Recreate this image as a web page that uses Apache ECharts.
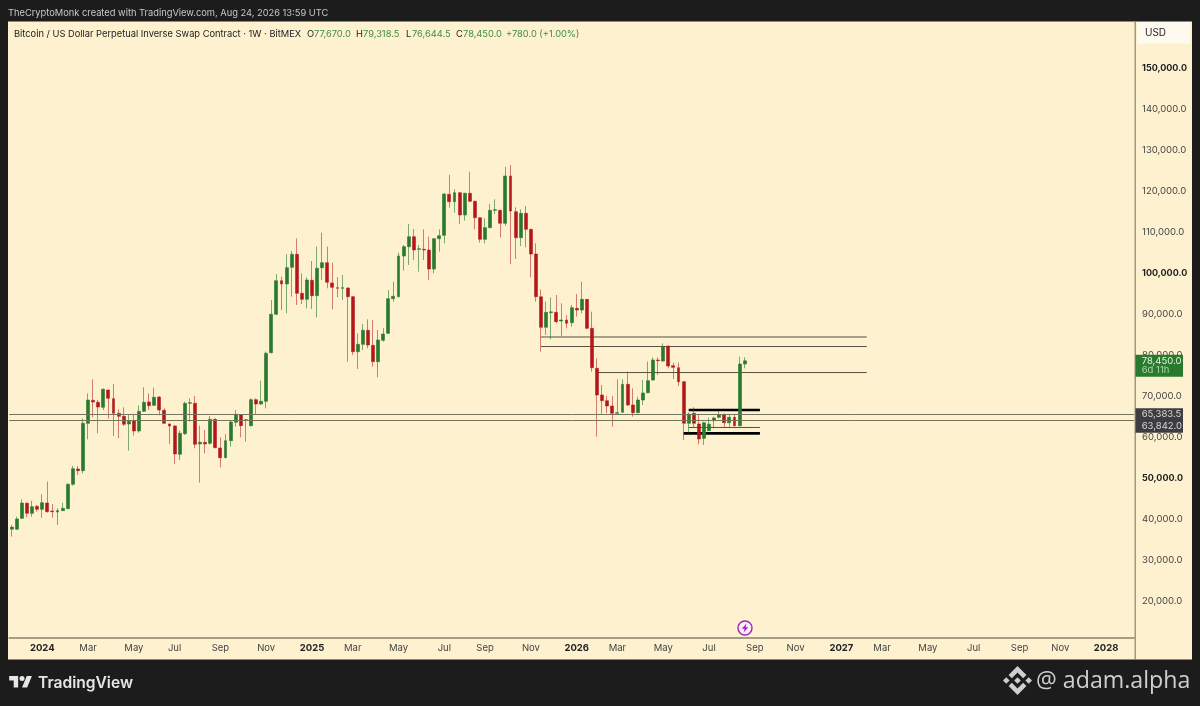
<!DOCTYPE html>
<html><head><meta charset="utf-8">
<style>html,body{margin:0;padding:0;background:#1c1c1c}#c{width:1200px;height:706px}</style>
<script src="https://cdn.jsdelivr.net/npm/echarts@6/dist/echarts.min.js"></script>
</head><body><div id="c"></div>
<script>
const opens=[37.4,37.4,40.04,43.7,41.26,42.97,42.24,43.78,41.83,41.59,41.92,42.4,48.34,52.08,51.67,63.21,68.82,68.34,67.12,71.34,69.23,65.65,64.92,63.05,63.87,61.35,66.14,68.42,67.6,69.64,66.39,63.05,62.56,55.65,60.7,68.09,68.09,58.17,58.58,58.34,64.19,57.2,54.84,58.99,63.46,65.33,63.9,62.65,68.99,67.93,68.58,80.45,89.8,98.01,97.2,101.26,104.43,94.92,93.46,98.09,94.35,101.18,102.4,97.44,96.3,96.14,96.22,94.11,80.69,82.48,85.9,82.24,78.25,83.46,85.16,93.62,94.11,104.03,106.3,108.74,105.65,105.65,105.49,100.85,108.25,109.07,119.07,117.28,119.47,114.03,119.31,117.36,113.38,108.09,110.94,115.16,115.16,112.0,123.54,114.84,108.5,114.43,110.53,104.51,94.1,86.63,90.2,90.28,88.17,88.41,87.76,91.26,90.85,93.45,86.38,76.63,70.12,68.74,67.44,65.65,65.89,72.72,67.68,65.81,68.9,70.69,73.78,78.66,78.41,82.07,77.28,76.79,73.37,63.21,65.65,63.05,59.55,61.42,63.86,64.67,65.24,63.37,64.67,62.64,77.67];
const closes=[37.9,39.88,43.78,41.26,42.89,42.24,43.87,41.67,41.67,41.92,42.48,48.34,52.16,51.67,63.21,68.9,68.42,67.2,71.51,69.31,65.65,64.92,62.97,63.7,61.35,66.14,68.34,67.52,69.56,66.47,63.21,62.56,55.74,60.78,68.09,68.26,58.09,58.58,58.17,64.19,57.28,54.84,58.99,63.54,65.41,62.65,64.1,68.99,67.93,68.58,80.29,89.8,98.01,97.2,101.18,104.43,94.92,93.46,98.17,94.35,101.02,102.4,97.6,96.38,96.14,96.3,94.11,80.69,82.48,85.9,82.32,78.25,83.54,85.0,93.62,94.19,104.03,106.3,108.74,105.49,105.81,105.49,100.85,108.25,108.99,119.15,117.28,119.47,114.03,119.31,117.36,113.38,108.09,110.94,115.16,115.33,112.0,123.54,115.0,108.5,114.43,110.53,104.51,94.11,86.63,90.28,90.4,88.01,88.41,87.6,91.42,90.85,93.45,86.38,76.79,70.12,68.74,67.44,65.65,65.81,72.72,67.68,65.81,68.9,70.61,73.62,78.66,78.5,81.91,77.19,76.87,73.37,63.21,65.49,63.21,59.39,63.37,63.0,64.51,65.24,63.37,64.67,62.64,77.67,78.45];
const lows=[35.57,37.2,39.88,40.29,40.45,41.67,40.21,41.43,40.21,38.42,41.92,42.32,48.01,50.61,51.02,59.31,64.68,60.78,66.47,64.35,60.13,59.56,62.56,56.55,60.21,60.94,65.98,66.47,67.44,65.17,63.05,58.17,53.3,54.27,60.37,63.62,57.12,48.74,55.9,58.01,57.12,52.48,54.68,57.52,62.4,59.8,58.74,62.4,65.25,67.69,66.87,80.29,89.64,90.85,90.04,94.1,92.07,92.32,91.26,91.1,89.07,98.17,96.14,91.02,93.94,93.29,78.25,79.88,76.47,81.1,81.5,77.03,74.43,83.13,85.0,92.89,93.94,100.45,101.83,103.05,100.2,103.05,98.17,99.8,105.08,107.12,115.81,114.59,111.83,112.64,117.2,110.53,107.28,107.12,110.77,114.27,108.58,111.42,102.07,103.29,106.46,106.14,98.82,92.89,80.69,84.76,83.7,87.6,84.51,86.38,86.79,89.23,90.04,86.14,75.81,59.96,65.24,65.65,62.4,65.49,65.81,67.44,64.84,65.65,67.68,70.53,73.62,75.0,78.25,76.63,74.02,72.32,59.15,60.93,62.24,58.09,57.93,61.34,61.99,64.43,62.24,61.99,62.4,62.4,76.6445];
const highs=[38.42,40.45,44.68,43.95,44.35,43.3,45.9,49.0,43.54,42.48,43.87,48.58,52.81,52.81,64.43,70.53,73.95,68.9,71.75,71.51,72.8,66.63,67.12,65.25,65.49,67.6,72.0,70.53,71.91,69.88,66.87,63.21,62.81,61.43,68.5,69.31,69.88,62.65,61.59,65.0,64.43,59.8,60.61,64.03,66.47,65.49,64.27,69.31,69.31,73.62,80.7,93.29,99.64,98.99,104.43,105.24,108.33,99.8,98.82,102.8,106.3,109.72,106.3,102.4,98.82,99.39,96.38,94.27,85.16,87.44,88.58,88.42,85.98,86.4,95.73,97.77,104.84,106.71,111.83,110.61,106.71,110.53,108.74,108.33,110.53,119.31,123.8,120.29,119.6,119.47,124.6,117.52,113.46,113.21,116.71,117.85,115.25,125.81,126.22,115.9,115.41,116.22,110.69,107.12,95.89,92.89,93.94,94.51,92.48,89.63,92.07,94.76,97.76,93.54,90.45,79.06,72.56,69.88,69.88,73.94,73.94,75.81,71.75,69.72,73.78,78.25,79.31,79.31,82.72,82.15,78.01,78.01,73.54,65.81,67.11,65.24,63.62,64.59,64.84,66.3,65.65,65.24,65.24,79.47,79.3185];
const priceTicks=[20000,30000,40000,50000,60000,70000,80000,90000,100000,110000,120000,130000,140000,150000];
const boldPrices=[50000,100000,150000];
const timeLabels={'2024-01-01':'2024','2024-03-04':'Mar','2024-05-06':'May','2024-07-01':'Jul','2024-09-02':'Sep','2024-11-04':'Nov','2025-01-06':'2025','2025-03-03':'Mar','2025-05-05':'May','2025-07-07':'Jul','2025-09-01':'Sep','2025-11-03':'Nov','2026-01-05':'2026','2026-03-02':'Mar','2026-05-04':'May','2026-07-06':'Jul','2026-09-07':'Sep','2026-11-02':'Nov','2027-01-04':'2027','2027-03-01':'Mar','2027-05-03':'May','2027-07-05':'Jul','2027-09-06':'Sep','2027-11-01':'Nov','2028-01-03':'2028'};
const fullLines=[65383.5,63842.0];
const lastClose=78450.0;
const levels=[
 {from:'2025-11-17',to:'2027-02-08',value:84270,kind:'thin'},
 {from:'2025-11-17',to:'2027-02-08',value:81950,kind:'thin'},
 {from:'2026-02-02',to:'2027-02-08',value:75600,kind:'thin'},
 {from:'2026-06-08',to:'2026-09-14',value:66460,kind:'thick'},
 {from:'2026-06-01',to:'2026-09-14',value:60770,kind:'thick'},
 {from:'2026-06-08',to:'2026-09-14',value:62200,kind:'thin'}
];
const weekDates=[];
for(let i=0;i<221;i++){weekDates.push(new Date(Date.UTC(2023,10,20+7*i)).toISOString().slice(0,10));}
const candles=opens.map((o,i)=>[o*1000,closes[i]*1000,lows[i]*1000,highs[i]*1000]);
const F='Inter, Roboto, "Liberation Sans", sans-serif';
const UP='#2a7a2e',DN='#b3171a',LINE='#85826a';
const chart=echarts.init(document.getElementById('c'),null,{renderer:'canvas'});
const txt=(x,y,t,o={})=>({type:'text',z:50,silent:true,x,y,style:Object.assign({text:t,fontFamily:F,fontSize:9.3,fill:'#222',verticalAlign:'middle',align:'left'},o)});
const rect=(x,y,w,h,fill,z=-10)=>({type:'rect',z,silent:true,shape:{x,y,width:w,height:h},style:{fill}});
const poly=(pts,x,y,s,fill)=>({type:'polygon',z:50,silent:true,x,y,scaleX:s,scaleY:s,shape:{points:pts},style:{fill}});
const tvA=[[14,22],[7,22],[7,11],[0,11],[0,4],[14,4]];
const tvB=[[28,22],[20,22],[27.5,4],[35.5,4]];
const bn=[
 [[38.73,53.2],[63.32,28.62],[87.92,53.22],[102.22,38.91],[63.32,0],[24.43,38.9]],
 [[0,63.31],[14.3,49],[28.61,63.31],[14.3,77.61]],
 [[38.73,73.41],[63.32,98],[87.92,73.4],[102.23,87.69],[63.33,126.6],[24.42,87.72]],
 [[98,63.31],[112.3,49],[126.61,63.3],[112.3,77.62]],
 [[77.83,63.3],[63.32,48.78],[48.81,63.28],[63.32,77.78]]
];
const G=[
 rect(8,21.5,1184,638,'#fef1d0'),
 rect(1137,22,53,21.5,'#fffaf0',1),
 rect(1134.6,21.5,1.2,638,LINE,1),
 txt(1145,33,'USD',{fontSize:10}),
 txt(8,13.5,'TheCryptoMonk created with TradingView.com, Aug 24, 2026 13:59 UTC',{fill:'#c8c8c8'}),
 txt(14,34,'Bitcoin / US Dollar Perpetual Inverse Swap Contract · 1W · BitMEX'),
 txt(307,34,'O'),txt(314,34,'77,670.0',{fill:'#3d8f42'}),
 txt(356,34,'H'),txt(363,34,'79,318.5',{fill:'#3d8f42'}),
 txt(406,34,'L'),txt(412,34,'76,644.5',{fill:'#3d8f42'}),
 txt(456,34,'C'),txt(463,34,'78,450.0',{fill:'#3d8f42'}),
 txt(506,34,'+780.0 (+1.00%)',{fill:'#3d8f42'}),
 poly(tvA,9.2,673.4,0.64,'#e6e6e6'),poly(tvB,9.2,673.4,0.64,'#e6e6e6'),
 {type:'circle',z:50,silent:true,shape:{cx:22.0,cy:678.6,r:2.5},style:{fill:'#e6e6e6'}},
 txt(38,683,'TradingView',{fill:'#e6e6e6',fontSize:15.6,fontWeight:600}),
 ...bn.map(p=>poly(p,1003,666,0.229,'#cfcfcf')),
 txt(1036,681,'@ adam.alpha',{fill:'#cfcfcf',fontSize:23.2,fontFamily:'"Open Sans", sans-serif'}),
 {type:'circle',z:50,silent:true,shape:{cx:745,cy:628,r:7},style:{fill:'#fbeefd',stroke:'#9c27b0',lineWidth:1.4}},
 {type:'polygon',z:51,silent:true,shape:{points:[[746.5,623.5],[741.8,628.7],[744.6,628.7],[743.6,632.5],[748.3,627.2],[745.5,627.2]]},style:{fill:'#9c27b0'}}
];
chart.setOption({
 animation:false,
 backgroundColor:'transparent',
 grid:{left:9.15,top:22,width:1124.9,height:616,containLabel:false},
 xAxis:{type:'category',data:weekDates,boundaryGap:true,
  axisLine:{show:true,lineStyle:{color:LINE,width:1.5}},axisTick:{show:false},splitLine:{show:false},
  axisLabel:{margin:5,fontFamily:F,fontSize:9.5,color:'#444',hideOverlap:false,
   interval:(i,v)=>!!timeLabels[v],
   formatter:v=>{const t=timeLabels[v]||'';return /^\d{4}$/.test(t)?'{b|'+t+'}':t;},
   rich:{b:{fontFamily:F,fontSize:9.5,fontWeight:700,color:'#222'}}}},
 yAxis:{type:'value',position:'right',min:10854,max:161098,scale:true,
  axisLine:{show:false},axisTick:{show:false},splitLine:{show:false},
  axisLabel:{customValues:priceTicks,margin:8,align:'left',fontFamily:F,fontSize:9.5,color:'#444',padding:[2,0,0,0],
   formatter:v=>{const s=v.toLocaleString('en-US',{minimumFractionDigits:1});return boldPrices.includes(v)?'{b|'+s+'}':s;},
   rich:{b:{fontFamily:F,fontSize:9,fontWeight:700,color:'#222'}}}},
 series:[
  ...levels.map(l=>({type:'line',z:1,symbol:'none',silent:true,
    data:[[l.from,l.value],[l.to,l.value]],
    lineStyle:{color:l.kind==='thick'?'#000':'#55533f',width:l.kind==='thick'?2.6:1}})),
  {type:'candlestick',z:3,silent:true,barWidth:3.4,data:candles,
   itemStyle:{color:UP,color0:DN,borderColor:'rgba(42,122,46,.62)',borderColor0:'rgba(179,23,26,.55)',borderWidth:1},
   markLine:{silent:true,symbol:'none',animation:false,label:{show:false},
    lineStyle:{color:'#77745c',width:1,type:'solid'},
    data:fullLines.map(v=>({yAxis:v}))}}
 ]
});
const tagY=v=>chart.convertToPixel({yAxisIndex:0},v);
const yL=tagY(lastClose),y1=tagY(fullLines[0]),y2=y1+12.1;
chart.setOption({graphic:{elements:G.concat([
 rect(1135.5,yL-6,47.5,22,UP,40),
 txt(1141.7,yL,'78,450.0',{fill:'#e6f3e6',fontSize:9.5}),
 txt(1141.7,yL+9.5,'6d 11h',{fill:'#a9d5aa',fontSize:9.5}),
 rect(1135.5,y1-6.2,47.5,24.6,'#3d3c3f',40),
 txt(1141.7,y1,'65,383.5',{fill:'#d8d8d8',fontSize:9.5}),
 txt(1141.7,y2,'63,842.0',{fill:'#d8d8d8',fontSize:9.5})
])}});
</script></body></html>
